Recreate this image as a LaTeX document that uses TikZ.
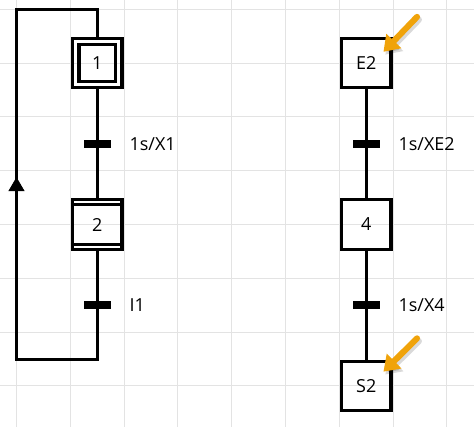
\documentclass[tikz,border=0pt]{standalone}
\usepackage{fontspec}
\setmainfont{Open Sans}
\usetikzlibrary{arrows.meta,decorations.markings}

\definecolor{gridgray}{HTML}{E3E3E3}
\definecolor{amber}{HTML}{F0A30A}
\newcommand{\grafcetfont}{\fontsize{9.5}{11}\selectfont}

\tikzset{
    stepbox/.style={draw, line width=1.7pt, minimum size=0.92cm, inner sep=0pt, font=\grafcetfont},
    trans/.style={fill=black, minimum width=0.5cm, minimum height=0.14cm, inner sep=0pt},
    cond/.style={anchor=west, inner sep=0pt, font=\grafcetfont},
    link/.style={line width=1.6pt},
    pointer/.style={amber, line width=3.2pt, line cap=round, -{Triangle[length=2.8mm,width=3.7mm]}},
    pointershadow/.style={pointer, black, opacity=0.15, transform canvas={xshift=1pt,yshift=-1.5pt}}
}

\begin{document}
\begin{tikzpicture}[x=0.5cm,y=0.5cm]
    \useasboundingbox (-0.613,-15.528) rectangle (17.007,0.346);

    % Draw the background grid
    \draw[gridgray, line width=0.5pt] (-0.613,-15.528) grid (17.007,0.346);

    % Left grafcet: steps and transitions
    \node[stepbox] (s1) at (3,-2) {1};
    \node[stepbox, minimum size=0.68cm] (s1in) at (3,-2) {};
    \node[trans] (t1) at (3,-5) {};
    \node[cond] (c1) at (4.19,-5) {1s/X1};
    \node[stepbox] (s2) at (3,-8) {2};
    \draw[line width=1.7pt] ([yshift=-0.12cm]s2.north west) -- ([yshift=-0.12cm]s2.north east);
    \draw[line width=1.7pt] ([yshift=0.12cm]s2.south west) -- ([yshift=0.12cm]s2.south east);
    \node[trans] (t2) at (3,-11) {};
    \node[cond] (c2) at (4.19,-11) {I1};

    % Return loop
    \coordinate (ctr) at (3,0);
    \coordinate (ctl) at (0,0);
    \coordinate (cbl) at (0,-13);
    \coordinate (cbr) at (3,-13);
    \draw[link] (s1) -- (t1) -- (s2) -- (t2) -- (cbr) -- (cbl) -- (ctl) -- (ctr) -- (s1);
    \path[decorate, decoration={markings, mark=at position 0.52 with {\arrow{Triangle[length=2.6mm,width=3mm]}}}] (cbl) -- (ctl);

    % Right grafcet
    \node[stepbox] (e2) at (13,-2) {E2};
    \node[trans] (t3) at (13,-5) {};
    \node[cond] (c3) at (14.19,-5) {1s/XE2};
    \node[stepbox] (s4) at (13,-8) {4};
    \node[trans] (t4) at (13,-11) {};
    \node[cond] (c4) at (14.19,-11) {1s/X4};
    \node[stepbox] (s2r) at (13,-14) {S2};
    \draw[link] (e2) -- (t3) -- (s4) -- (t4) -- (s2r);

    % Orange pointers
    \coordinate (p1) at (14.89,-0.28);
    \coordinate (p1tip) at (13.64,-1.58);
    \coordinate (p2) at (14.89,-12.23);
    \coordinate (p2tip) at (13.64,-13.47);
    \draw[pointershadow] (p1) -- (p1tip);
    \draw[pointershadow] (p2) -- (p2tip);
    \draw[pointer] (p1) -- (p1tip);
    \draw[pointer] (p2) -- (p2tip);
\end{tikzpicture}
\end{document}
